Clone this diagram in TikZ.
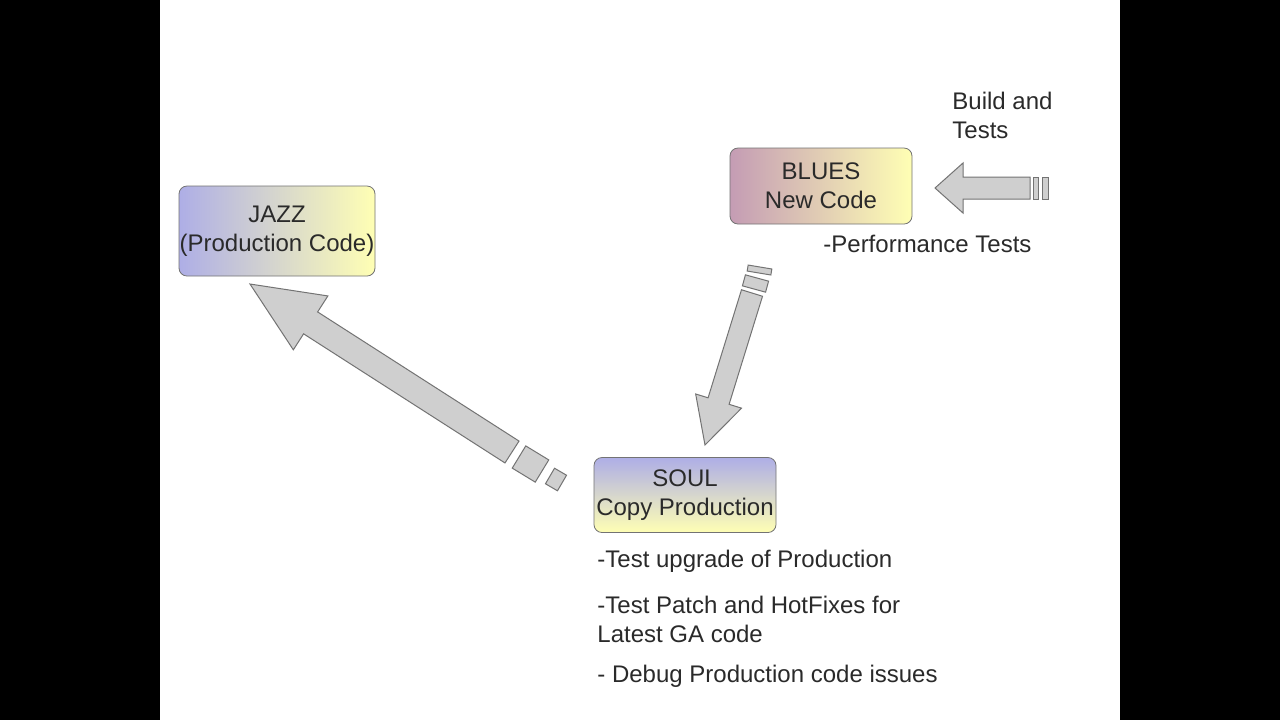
\documentclass[tikz,border=0pt]{standalone}
\usepackage{fontspec}
\setmainfont{Liberation Sans}
\usetikzlibrary{calc,positioning}
\definecolor{lav}{HTML}{AEAEE6}
\definecolor{mauve}{HTML}{C49CB4}
\definecolor{paleyel}{HTML}{FFFFB4}
\definecolor{arrgray}{HTML}{CFCFCF}
\definecolor{inkgray}{HTML}{2A2A2A}
\newcommand\grayarrow[5]{% start, tip, shaft half, head half, head length
 \coordinate (h) at ($(#2)!#5!(#1)$);
 \draw[arrowbody] ($(#1)!#3!90:(#2)$) -- ($(h)!#3!90:(#2)$) -- ($(h)!#4!90:(#2)$)
   -- (#2) -- ($(h)!#4!-90:(#2)$) -- ($(h)!#3!-90:(#2)$) -- ($(#1)!#3!-90:(#2)$) -- cycle;
}
\newcommand\graybar[3]{% from, to, half width
 \draw[arrowbody] ($(#1)!#3!90:(#2)$) -- ($(#2)!#3!-90:(#1)$) -- ($(#2)!#3!90:(#1)$) -- ($(#1)!#3!-90:(#2)$) -- cycle;
}
\begin{document}
\begin{tikzpicture}[x=0.5pt,y=-0.5pt,
  font=\fontsize{12}{14.5}\selectfont, text=inkgray,
  box/.style={draw=black!55, rounded corners=4pt, align=center, inner sep=0pt},
  arrowbody/.style={draw=black!55, fill=arrgray, line width=0.5pt},
  note/.style={anchor=west, align=left, inner sep=0pt}]
\fill[black] (0,0) rectangle (1280,720);
\fill[white] (160,0) rectangle (1120,720);
% place nodes
\node[box, minimum width=98pt, minimum height=45pt, left color=lav, right color=paleyel] (jazz) at (277,231) {JAZZ\\(Production Code)};
\node[box, minimum width=91pt, minimum height=38pt, left color=mauve, right color=paleyel] (blues) at (821,186) {BLUES\\New Code};
\node[box, minimum width=91pt, minimum height=37.5pt, top color=lav, bottom color=paleyel] (soul) at (685,495) {SOUL\\Copy Production};
\node[note] (build) at (952,115) {Build and\\Tests};
\node[note] (perf) at (823,244) {-Performance Tests};
\node[note] (t1) at (597,561) {-Test upgrade of Production};
\node[note] (t2) at (597,619) {-Test Patch and HotFixes for\\Latest GA code};
\node[note] (t3) at (597,676) {- Debug Production code issues};
% draw arrows
\coordinate (a1s) at (1030,188); \coordinate (a1e) at (935,188);
\grayarrow{a1s}{a1e}{5.5pt}{12.5pt}{14pt}
\coordinate (b1a) at (1033,188); \coordinate (b1b) at (1038,188);
\coordinate (b1c) at (1042,188); \coordinate (b1d) at (1048,188);
\graybar{b1a}{b1b}{5.5pt} \graybar{b1c}{b1d}{5.5pt}
\coordinate (a2s) at (752,293); \coordinate (a2e) at (705,445);
\grayarrow{a2s}{a2e}{5.5pt}{12pt}{23pt}
\coordinate (b2a) at (754,289); \coordinate (b2b) at (757,278);
\coordinate (b2c) at (759,273); \coordinate (b2d) at (760,267);
\graybar{b2a}{b2b}{6pt} \graybar{b2c}{b2d}{6pt}
\coordinate (a3s) at (512,452); \coordinate (a3e) at (250,284);
\grayarrow{a3s}{a3e}{6.5pt}{16pt}{36pt}
\coordinate (b3a) at (519,457); \coordinate (b3b) at (542,471);
\coordinate (b3c) at (550,476); \coordinate (b3d) at (562,483);
\graybar{b3a}{b3b}{6.5pt} \graybar{b3c}{b3d}{4.5pt}
\end{tikzpicture}
\end{document}
